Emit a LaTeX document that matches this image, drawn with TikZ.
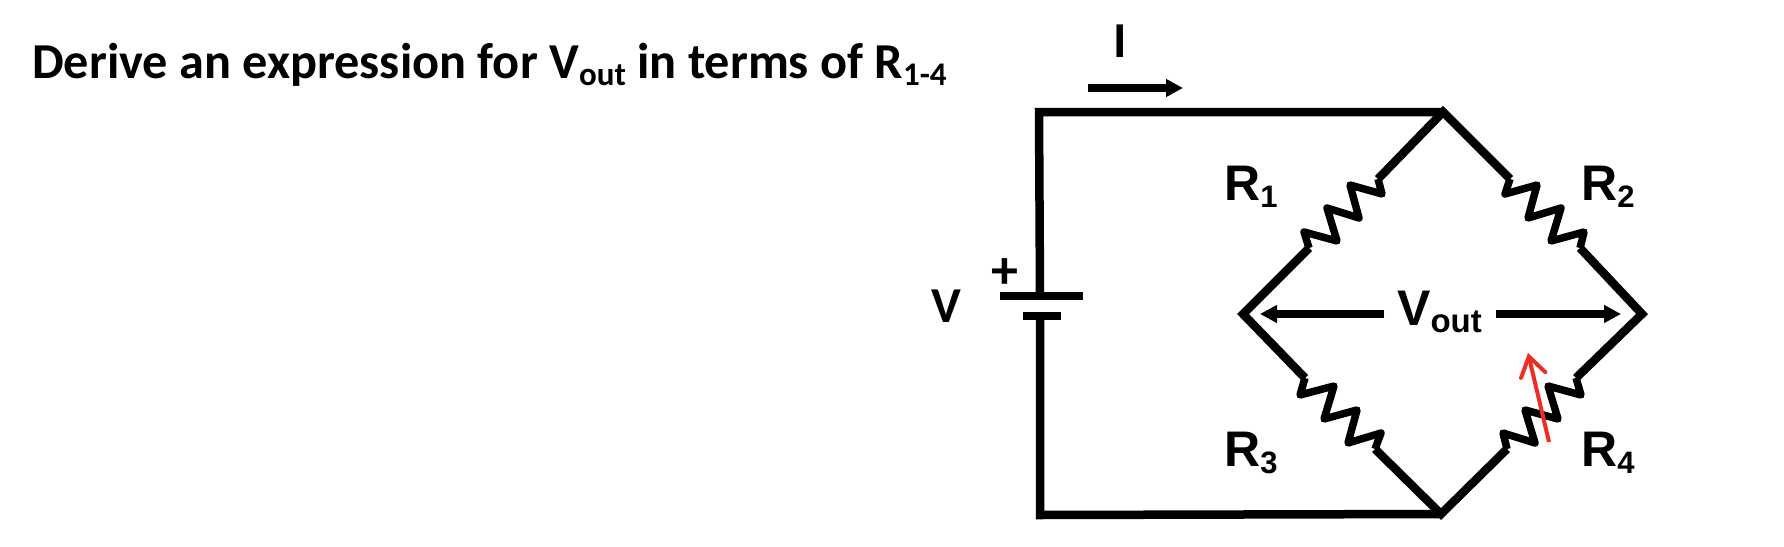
\documentclass[tikz,border=0pt]{standalone}
\usepackage{fontspec}
\setmainfont{Carlito}
\newfontfamily\arialfont{Liberation Sans}
\usetikzlibrary{arrows.meta}
\definecolor{tipred}{HTML}{EE2E24}

\begin{document}
\begin{tikzpicture}[x=1pt, y=-1pt]
  \tikzstyle{wire}=[line width=8.5pt]
  \tikzstyle{zig}=[line width=7.5pt, line join=round]
  \tikzstyle{flow}=[line width=8pt, -{Triangle[length=17pt, width=17pt]}]
  \tikzstyle{plate}=[line width=8.5pt]
  \tikzstyle{lab}=[inner sep=0pt, anchor=base west, font=\arialfont\bfseries\fontsize{50}{50}\selectfont]
  \tikzstyle{word}=[inner sep=0pt, anchor=base west, font=\bfseries\fontsize{50.3}{50}\selectfont]

  \useasboundingbox (0,0) rectangle (1784,546);

  \node[word] (title) at (32, 78) {Derive an expression for V\raisebox{-7pt}{\fontsize{33}{33}\selectfont out} in terms of R\raisebox{-7pt}{\fontsize{33}{33}\selectfont 1-4}};

  \coordinate (corner1) at (1039, 112);
  \coordinate (corner2) at (1040, 515);
  \coordinate (top)     at (1443, 112);
  \coordinate (bottom)  at (1441, 514);
  \coordinate (left)    at (1243, 314);
  \coordinate (right)   at (1642, 314);

  % battery
  \coordinate (plate1) at (1040, 296);
  \coordinate (plate2) at (1040, 316);
  \coordinate (p1a) at (1000, 296);
  \coordinate (p1b) at (1083, 296);
  \coordinate (p2a) at (1023, 316);
  \coordinate (p2b) at (1061, 316);

  \draw[wire] (top) -- (corner1) -- (plate1);
  \draw[wire] (plate2) -- (corner2) -- (bottom);
  \draw[plate] (p1a) -- (p1b);
  \draw[plate] (p2a) -- (p2b);

  % bridge
  \draw[wire] (1378, 179) -- (top) -- (1510, 179);
  \draw[wire] (1309, 248) -- (left) -- (1305, 378);
  \draw[wire] (1580, 248) -- (right) -- (1576, 378);
  \draw[wire] (1375, 449) -- (bottom) -- (1507, 449);

  \draw[zig] (1378, 179) -- (1382, 194) -- (1350, 185) -- (1359, 218) -- (1327, 208) -- (1337, 241) -- (1304, 232) -- (1309, 248);
  \draw[zig] (1510, 179) -- (1505, 194) -- (1537, 185) -- (1528, 218) -- (1561, 208) -- (1551, 241) -- (1584, 232) -- (1580, 248);
  \draw[zig] (1305, 378) -- (1300, 395) -- (1334, 386) -- (1324, 419) -- (1357, 410) -- (1348, 443) -- (1381, 433) -- (1375, 449);
  \draw[zig] (1576, 378) -- (1581, 395) -- (1548, 386) -- (1558, 419) -- (1525, 410) -- (1535, 443) -- (1503, 433) -- (1507, 449);

  % labels
  \node[lab] (r1) at (1224, 200) {R\raisebox{-7pt}{\fontsize{31}{31}\selectfont 1}};
  \node[lab] (r2) at (1581, 200) {R\raisebox{-7pt}{\fontsize{31}{31}\selectfont 2}};
  \node[lab] (r3) at (1224, 466) {R\raisebox{-7pt}{\fontsize{31}{31}\selectfont 3}};
  \node[lab] (r4) at (1581, 466) {R\raisebox{-7pt}{\fontsize{31}{31}\selectfont 4}};
  \node[lab] (vout) at (1397, 325) {V\raisebox{-7pt}{\fontsize{33}{33}\selectfont out}};
  \node[word] (v) at (931, 322) {V};
  \node[word] (i) at (1113, 57) {I};
  \node[word, font=\bfseries\fontsize{54}{54}\selectfont] (plus) at (991, 288) {+};

  % arrows
  \coordinate (ia) at (1088, 88);
  \coordinate (ib) at (1183, 88);
  \coordinate (la) at (1384, 314);
  \coordinate (lb) at (1260, 314);
  \coordinate (ra) at (1496, 314);
  \coordinate (rb) at (1621, 314);
  \draw[flow] (ia) -- (ib);
  \draw[flow] (la) -- (lb);
  \draw[flow] (ra) -- (rb);

  \coordinate (ta) at (1549, 442);
  \coordinate (tb) at (1528, 353);
  \draw[line width=4pt, tipred, -{Straight Barb[length=19pt, width=25pt, line cap=round]}] (ta) -- (tb);
\end{tikzpicture}
\end{document}
